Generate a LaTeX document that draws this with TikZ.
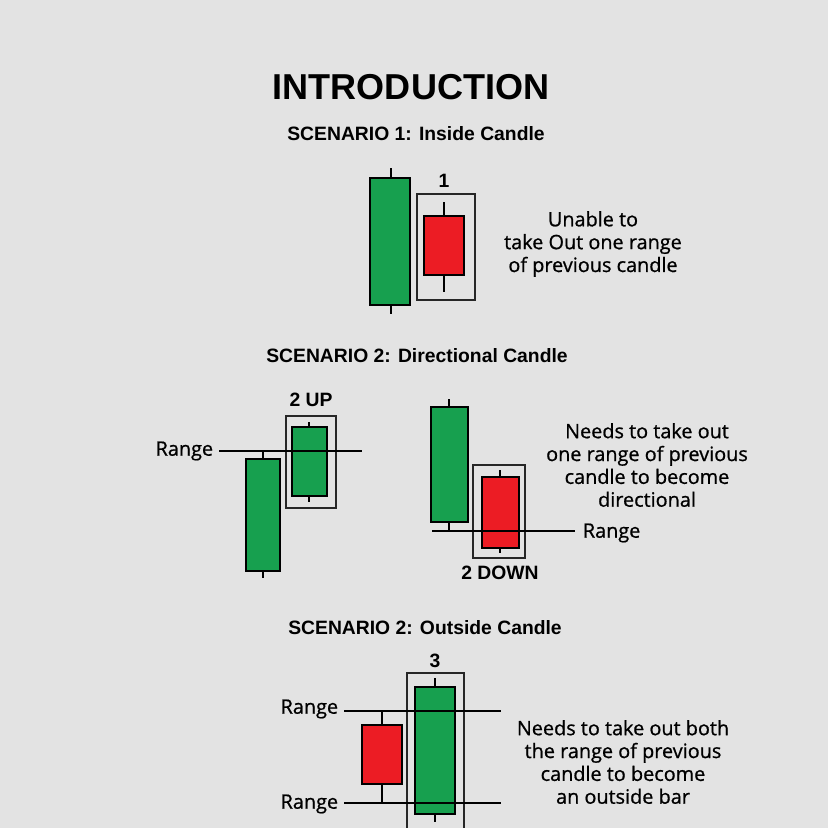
\documentclass[tikz,border=0pt]{standalone}
\usepackage{fontspec}
\setmainfont{Liberation Sans}
\newfontfamily\notefont[FakeBold=0.8]{Open Sans}
\definecolor{bg}{HTML}{E3E3E3}
\definecolor{bull}{HTML}{17A04F}
\definecolor{bear}{HTML}{EC1C24}

\begin{document}
\begin{tikzpicture}[x=0.02cm, y=-0.02cm,
	candle/.style={draw=black, line width=1.6pt},
	wick/.style={line width=1.6pt},
	framebox/.style={draw=black!85, line width=1pt},
	rangeline/.style={line width=1.1pt},
	heading/.style={font=\fontsize{11}{13}\selectfont\bfseries},
	note/.style={font=\notefont\fontsize{11.3}{13}\selectfont, align=center}]
	
	% background, fixes the page size
	\fill[bg] (0,0) rectangle (828,828);
	\clip (0,0) rectangle (828,828);
	
	% headings
	\node[font=\fontsize{20.5}{24}\selectfont\bfseries] (title) at (411,87) {INTRODUCTION};
	\node[heading] (sc1) at (416,134) {SCENARIO 1: Inside Candle};
	\node[heading] (sc2) at (417,356) {SCENARIO 2: Directional Candle};
	\node[heading] (sc3) at (425,628) {SCENARIO 2: Outside Candle};
	
	% scenario 1: inside candle
	\draw[wick] (391,168) -- (391,314);
	\draw[candle, fill=bull] (370,178) rectangle (410,305);
	\draw[framebox] (417,194) rectangle (475,300);
	\draw[wick] (444,202) -- (444,292);
	\draw[candle, fill=bear] (424,216) rectangle (464,275);
	\node[heading] (lab1) at (444,181) {1};
	\node[note] (note1) at (593,244) {Unable to\\take Out one range\\of previous candle};
	
	% scenario 2: up
	\draw[wick] (263,451) -- (263,578);
	\draw[candle, fill=bull] (246,459) rectangle (280,571);
	\draw[framebox] (286,416) rectangle (336,508);
	\draw[wick] (309,422) -- (309,502);
	\draw[candle, fill=bull] (292,427) rectangle (327,496);
	\node[heading] (lab2up) at (311,400) {2 UP};
	\node[note, anchor=east, inner sep=2pt] (rng1) at (217,451) {Range};
	\coordinate (rng1end) at (362,451);
	\draw[rangeline] (rng1.east |- rng1end) ++(2,0) -- (rng1end);
	
	% scenario 2: down
	\draw[wick] (449,399) -- (449,531);
	\draw[candle, fill=bull] (431,407) rectangle (468,522);
	\draw[framebox] (473,465) rectangle (525,558);
	\draw[wick] (500,470) -- (500,553);
	\draw[candle, fill=bear] (482,477) rectangle (519,548);
	\node[heading] (lab2dn) at (500,573) {2 DOWN};
	\node[note, anchor=west, inner sep=2pt] (rng2) at (579,533) {Range};
	\coordinate (rng2end) at (432,531);
	\draw[rangeline] (rng2end) -- ([xshift=-2pt]rng2.west |- rng2end);
	\node[note] (note2) at (647,465) {Needs to take out\\one range of previous\\candle to become\\directional};
	
	% scenario 3: outside candle
	\draw[wick] (382,711) -- (382,803);
	\draw[candle, fill=bear] (362,725) rectangle (402,784);
	\draw[framebox] (407,673) rectangle (464,850);
	\draw[wick] (435,678) -- (435,822);
	\draw[candle, fill=bull] (415,687) rectangle (455,814);
	\node[heading] (lab3) at (435,661) {3};
	\node[note, anchor=east, inner sep=2pt] (rng3) at (342,709) {Range};
	\node[note, anchor=east, inner sep=2pt] (rng4) at (342,804) {Range};
	\coordinate (rng3end) at (501,711);
	\coordinate (rng4end) at (501,803);
	\draw[rangeline] (rng3.east |- rng3end) ++(2,0) -- (rng3end);
	\draw[rangeline] (rng4.east |- rng4end) ++(2,0) -- (rng4end);
	\node[note] (note3) at (623,762) {Needs to take out both\\the range of previous\\candle to become\\an outside bar};
	
\end{tikzpicture}
\end{document}
